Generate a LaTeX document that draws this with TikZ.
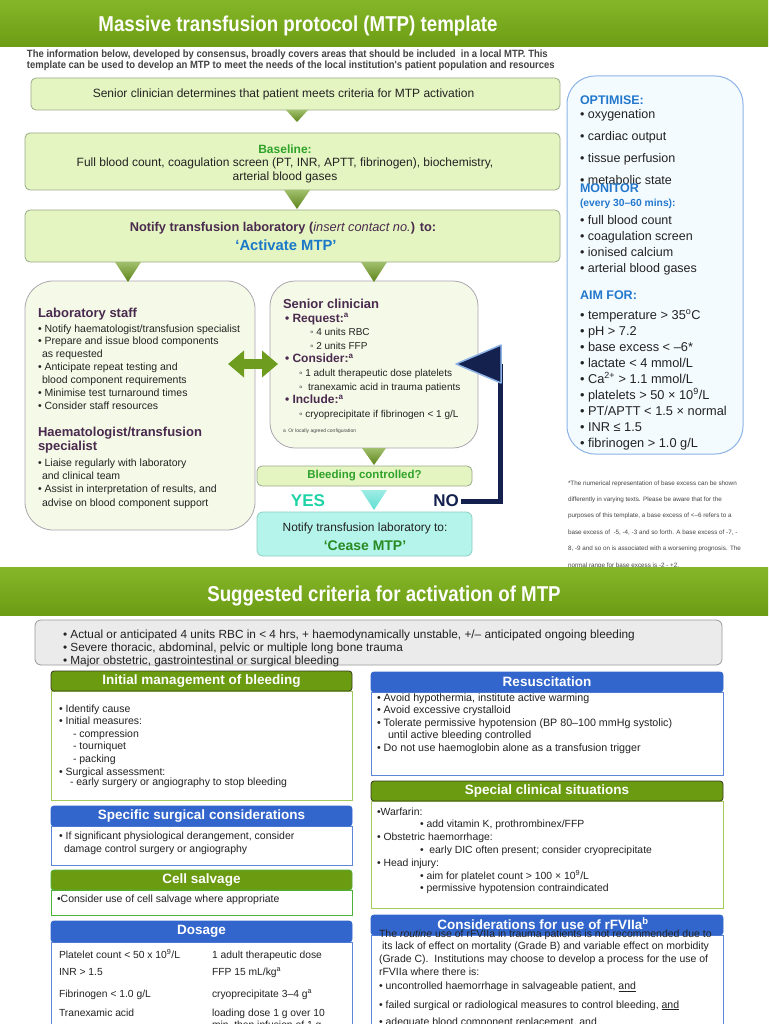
\documentclass[tikz,border=0pt]{standalone}
\usepackage{fontspec}
\setmainfont{Liberation Sans}
\newfontfamily\narrowT[FakeStretch=0.87]{Liberation Sans}
\newfontfamily\narrowS[FakeStretch=0.9]{Liberation Sans}
\usetikzlibrary{calc,arrows.meta}
\newcommand\myfs[2]{\fontsize{#1}{#2}\selectfont}
\newcommand\tb[1]{\parbox[t]{800pt}{\raggedright\leavevmode #1}}
\definecolor{bandtop}{HTML}{86B628}
\definecolor{bandbot}{HTML}{6C9C14}
\definecolor{lgreen}{HTML}{E5F5C1}
\definecolor{gbord}{HTML}{9AAA88}
\definecolor{vlgreen}{HTML}{F5FAE8}
\definecolor{bigbord}{HTML}{ABA6AE}
\definecolor{trigreen}{HTML}{6E9C1E}
\definecolor{purp}{HTML}{4A2A4E}
\definecolor{basegreen}{HTML}{2FA22A}
\definecolor{actblue}{HTML}{1A78C8}
\definecolor{cyanfill}{HTML}{B5F4EA}
\definecolor{cyanbord}{HTML}{8CCFC4}
\definecolor{tricyan}{HTML}{5EDFD2}
\definecolor{yesc}{HTML}{1FD3A6}
\definecolor{navy}{HTML}{14214F}
\definecolor{panelb}{HTML}{8DB3E6}
\definecolor{panelf}{HTML}{F4FBFF}
\definecolor{optblue}{HTML}{2378CC}
\definecolor{hblue}{HTML}{3366CC}
\definecolor{bblue}{HTML}{5D85D8}
\definecolor{hgreen2}{HTML}{6B9B10}
\definecolor{hgdark}{HTML}{3A3A22}
\definecolor{hgbright}{HTML}{4FB03A}
\definecolor{bgreen}{HTML}{A3CB5C}
\definecolor{critf}{HTML}{EBEBEB}
\definecolor{critb}{HTML}{9A9A9A}
\definecolor{txt}{HTML}{222222}
\definecolor{subt}{HTML}{444444}
\tikzset{
  band/.style={anchor=north west, minimum width=768pt, minimum height=48pt, top color=bandtop, bottom color=bandbot, draw=none},
  bandtitle/.style={font=\narrowT\bfseries\myfs{21.5}{24}, text=white},
  gbox/.style={anchor=north west, draw=gbord, fill=lgreen, rounded corners=5pt, line width=0.8pt},
  bigbox/.style={anchor=north west, draw=bigbord, fill=vlgreen, rounded corners=28pt, line width=0.8pt},
  txt/.style={anchor=base west, align=left},
  hdr/.style={anchor=north west, minimum height=20pt, rounded corners=3pt, line width=0.8pt},
  hdrG/.style={hdr, fill=hgreen2, draw=hgdark},
  hdrB/.style={hdr, fill=hblue, draw=hblue},
  body/.style={anchor=north west, fill=white, line width=1pt},
  htitle/.style={font=\bfseries\myfs{13.5}{15}, text=white},
  tri/.style={top color=trigreen!65!white, bottom color=trigreen!85!black, draw=none},
  tric/.style={top color=tricyan!60!white, bottom color=tricyan, draw=none},
  dblarrow/.style={draw=trigreen, line width=10pt, {Triangle[width=26pt,length=16pt]}-{Triangle[width=26pt,length=16pt]}},
  noline/.style={draw=navy, line width=5pt},
}
\newcommand\dtri[4]{\path[#4] ($(#1)+(-#2,0)$) -- ($(#1)+(#2,0)$) -- ($(#1)+(0,#3)$) -- cycle;}
\newcommand\seclab[1]{{\bfseries\myfs{12}{13.6}\color{purp}#1}}
\begin{document}
\begin{tikzpicture}[x=1pt,y=-1pt, every node/.style={inner sep=0pt, outer sep=0pt, text=txt}]
\useasboundingbox (0,0) rectangle (768,1024);
\clip (0,0) rectangle (768,1024);
\fill[white] (0,0) rectangle (768,1024);

% ---------- header 1
\node[band] (band1) at (0,-1) {};
\node[bandtitle] (title1) at (298,26) {Massive transfusion protocol (MTP) template};
\node[txt, font=\narrowS\bfseries\myfs{10.55}{10.5}, text=subt] (sub) at (27,58) {\tb{The information below, developed by consensus, broadly covers areas that should be included\ \ in a local MTP. This\\template can be used to develop an MTP to meet the needs of the local institution's patient population and resources}};

% ---------- flow boxes
\node[gbox, minimum width=529pt, minimum height=32pt] (b1) at (31,78) {};
\node[font=\myfs{12}{13}] (b1t) at ([xshift=-12pt]b1.center) {Senior clinician determines that patient meets criteria for MTP activation};

\node[gbox, minimum width=535pt, minimum height=57pt] (b2) at (25,133) {};
\node[font=\bfseries\myfs{12}{13}, text=basegreen] (b2h) at (285,149) {Baseline:};
\node[font=\myfs{12}{14}, align=center] (b2t) at (285,170) {Full blood count, coagulation screen (PT, INR, APTT, fibrinogen), biochemistry,\\arterial blood gases};

\node[gbox, minimum width=535pt, minimum height=52pt] (b3) at (25,210) {};
\node[font=\bfseries\myfs{12.8}{14}, text=purp] (b3t) at (283,228) {Notify transfusion laboratory (\textit{\mdseries insert contact no.}) to:};
\node[font=\bfseries\myfs{14.8}{16}, text=actblue] (b3a) at (286,245) {‘Activate MTP’};

\node[bigbox, minimum width=230pt, minimum height=249pt] (lab) at (25,281) {};
\node[bigbox, minimum width=208pt, minimum height=167pt, rounded corners=25pt] (sen) at (270,281) {};

\dtri{[xshift=1.5pt]b1.south}{11}{12}{tri}
\dtri{[xshift=4.5pt]b2.south}{13}{19}{tri}
\dtri{[xshift=-12pt]lab.north |- b3.south}{13}{20}{tri}
\dtri{sen.north |- b3.south}{13}{20}{tri}

% lab staff text
\node[txt, font=\bfseries\myfs{13}{14}, text=purp] (labT) at (38,317) {Laboratory staff};
\node[txt, font=\myfs{10.5}{12.9}] (labL) at (38,332) {\tb{• Notify haematologist/transfusion specialist\\• Prepare and issue blood components\\\hspace*{4pt}as requested\\• Anticipate repeat testing and\\\hspace*{4pt}blood component requirements\\• Minimise test turnaround times\\• Consider staff resources}};
\node[txt, font=\bfseries\myfs{13}{14.5}, text=purp] (hemT) at (38,436) {\tb{Haematologist/transfusion\\specialist}};
\node[txt, font=\myfs{10.5}{13.4}] (hemL) at (38,466) {\tb{• Liaise regularly with laboratory\\\hspace*{4pt}and clinical team\\• Assist in interpretation of results, and\\\hspace*{4pt}advise on blood component support}};

% senior clinician text
\node[txt, font=\bfseries\myfs{13}{14}, text=purp] (senT) at (283,308) {Senior clinician};
\node[txt, font=\myfs{10}{13.6}] (senL) at (285,322) {\tb{\seclab{• Request:\textsuperscript{a}}\\
\hspace*{25pt}◦ 4 units RBC\\
\hspace*{25pt}◦ 2 units FFP\\
\seclab{• Consider:\textsuperscript{a}}\\
\hspace*{14pt}◦ 1 adult therapeutic dose platelets\\
\hspace*{14pt}◦\ \ tranexamic acid in trauma patients\\
\seclab{• Include:\textsuperscript{a}}\\
\hspace*{14pt}◦ cryoprecipitate if fibrinogen < 1 g/L}};
\node[txt, font=\myfs{5}{6}, text=subt] (senF) at (283,432) {a\enspace Or locally agreed configuration};

% double arrow lab <-> senior
\coordinate (ya) at (0,364);
\draw[dblarrow] ([xshift=-27pt]lab.east |- ya) -- ([xshift=8pt]sen.west |- ya);

% bleeding controlled
\node[gbox, minimum width=215pt, minimum height=20pt] (bleed) at (257,466) {};
\node[font=\bfseries\myfs{11.5}{13}, text=basegreen] (bleedT) at (bleed.center) {Bleeding controlled?};
\dtri{sen.south}{12}{17}{tri}
\dtri{[yshift=-4pt]sen.south |- bleed.south}{13}{20}{tric}

\node[font=\bfseries\myfs{17}{19}, text=yesc] (yes) at (308,501) {YES};
\node[font=\bfseries\myfs{17}{19}, text=navy] (no) at (446,501) {NO};

\node[anchor=north west, draw=cyanbord, fill=cyanfill, rounded corners=6pt, line width=0.8pt, minimum width=215pt, minimum height=44pt] (cease) at (257,512) {};
\node[font=\myfs{11.9}{13}] (ceaseT) at (365,528) {Notify transfusion laboratory to:};
\node[font=\bfseries\myfs{14}{16}, text=basegreen!85!black] (ceaseM) at (365,546) {‘Cease MTP’};

% NO loop arrow
\draw[noline] ([xshift=2pt]no.east) -| ([xshift=22pt]sen.east |- ya);
\filldraw[fill=navy, draw=panelb, line width=1.5pt, line join=round] ([xshift=-22pt]sen.east |- ya) -- ++(45pt,-19pt) -- ++(0,38pt) -- cycle;

% ---------- right panel
\node[anchor=north west, draw=panelb, fill=panelf, rounded corners=28pt, line width=1pt, minimum width=176pt, minimum height=378pt] (pan) at (567,76) {};
\node[txt, font=\bfseries\myfs{12.5}{14}, text=optblue] (optT) at (580,105) {OPTIMISE:};
\node[txt, font=\myfs{12.5}{22}] (optL) at (580,119) {\tb{• oxygenation\\• cardiac output\\• tissue perfusion\\• metabolic state}};
\node[txt, font=\bfseries\myfs{12.5}{14}, text=optblue] (monT) at (580,193) {MONITOR};
\node[txt, font=\bfseries\myfs{10.3}{12}, text=optblue] (monS) at (580,207) {(every 30–60 mins):};
\node[txt, font=\myfs{12.5}{15.7}] (monL) at (580,225) {\tb{• full blood count\\• coagulation screen\\• ionised calcium\\• arterial blood gases}};
\node[txt, font=\bfseries\myfs{12.5}{14}, text=optblue] (aimT) at (580,299) {AIM FOR:};
\node[txt, font=\myfs{12.8}{16}] (aimL) at (580,319) {\tb{• temperature > 35\textsuperscript{o}C\\• pH > 7.2\\• base excess < –6*\\• lactate < 4 mmol/L\\• Ca\textsuperscript{2+} > 1.1 mmol/L\\• platelets > 50 × 10\textsuperscript{9}/L\\• PT/APTT < 1.5 × normal\\• INR ≤ 1.5\\• fibrinogen > 1.0 g/L}};
\node[txt, font=\myfs{6.3}{16.4}, text=subt] (foot) at (568,485) {\tb{*The numerical representation of base excess can be shown\\differently in varying texts. Please be aware that for the\\purposes of this template, a base excess of <–6 refers to a\\base excess of\ \ -5, -4, -3 and so forth. A base excess of -7, -\\8, -9 and so on is associated with a worsening prognosis. The\\normal range for base excess is -2 - +2.}};

% ---------- header 2
\node[band] (band2) at (0,567) {};
\node[bandtitle] (title2) at (384,596) {Suggested criteria for activation of MTP};

\node[anchor=north west, draw=critb, fill=critf, rounded corners=6pt, line width=0.8pt, minimum width=687pt, minimum height=45pt] (crit) at (35,620) {};
\node[txt, font=\myfs{11.8}{13}] (critL) at (63,638) {\tb{• Actual or anticipated 4 units RBC in < 4 hrs, + haemodynamically unstable, +/– anticipated ongoing bleeding\\• Severe thoracic, abdominal, pelvic or multiple long bone trauma\\• Major obstetric, gastrointestinal or surgical bleeding}};

% ---------- left column
\node[body, draw=bgreen, minimum width=301pt, minimum height=109pt] (imB) at (51,691) {};
\node[hdrG, minimum width=301pt] (imH) at (51,671) {};
\node[htitle] (imT) at (imH.center) {Initial management of bleeding};
\node[txt, font=\myfs{10.5}{12.6}] (imL) at (59,712) {\tb{• Identify cause\\• Initial measures:\\\hspace*{14pt}- compression\\\hspace*{14pt}- tourniquet\\\hspace*{14pt}- packing\\• Surgical assessment:\\[-2.5pt]\hspace*{11pt}- early surgery or angiography to stop bleeding}};

\node[body, draw=bblue, minimum width=301pt, minimum height=39pt] (ssB) at (51,826) {};
\node[hdrB, minimum width=301pt] (ssH) at (51,806) {};
\node[htitle] (ssT) at (ssH.center) {Specific surgical considerations};
\node[txt, font=\myfs{10.5}{13}] (ssL) at (59,839) {\tb{• If significant physiological derangement, consider\\\hspace*{5pt}damage control surgery or angiography}};

\node[body, draw=hgbright, minimum width=301pt, minimum height=25pt] (csB) at (51,890) {};
\node[hdr, fill=hgreen2, draw=hgbright, minimum width=301pt] (csH) at (51,870) {};
\node[htitle] (csT) at (csH.center) {Cell salvage};
\node[txt, font=\myfs{10.5}{13}] (csL) at (57,902) {•Consider use of cell salvage where appropriate};

\node[body, draw=bblue, minimum width=301pt, minimum height=100pt] (doB) at (51,942) {};
\node[hdrB, minimum width=301pt, minimum height=21pt] (doH) at (51,921) {};
\node[htitle] (doT) at (doH.center) {Dosage};
\node[txt, font=\myfs{10.3}{17}] (doL) at (59,958) {\tb{Platelet count < 50 x 10\textsuperscript{9}/L\\INR > 1.5\\[5pt]Fibrinogen < 1.0 g/L\\[2pt]Tranexamic acid}};
\node[txt, font=\myfs{10.3}{17}] (doR) at (212,958) {\tb{1 adult therapeutic dose\\FFP 15 mL/kg\textsuperscript{a}\\[5pt]cryoprecipitate 3–4 g\textsuperscript{a}\\[2pt]loading dose 1 g over 10\\[-5pt]min, then infusion of 1 g}};

% ---------- right column
\node[body, draw=bblue, minimum width=352pt, minimum height=83pt] (reB) at (371,692) {};
\node[hdrB, minimum width=352pt] (reH) at (371,672) {};
\node[htitle] (reT) at (reH.center) {Resuscitation};
\node[txt, font=\myfs{10.7}{12.6}] (reL) at (377,701) {\tb{• Avoid hypothermia, institute active warming\\• Avoid excessive crystalloid\\• Tolerate permissive hypotension (BP 80–100 mmHg systolic)\\\hspace*{11pt}until active bleeding controlled\\• Do not use haemoglobin alone as a transfusion trigger}};

\node[body, draw=bgreen, minimum width=352pt, minimum height=107pt] (scB) at (371,801) {};
\node[hdrG, minimum width=352pt] (scH) at (371,781) {};
\node[htitle] (scT) at (scH.center) {Special clinical situations};
\node[txt, font=\myfs{10.4}{12.8}] (scL) at (377,815) {\tb{•Warfarin:\\\hspace*{43pt}• add vitamin K, prothrombinex/FFP\\• Obstetric haemorrhage:\\\hspace*{43pt}•\ \ early DIC often present; consider cryoprecipitate\\• Head injury:\\\hspace*{43pt}• aim for platelet count > 100 × 10\textsuperscript{9}/L\\\hspace*{43pt}• permissive hypotension contraindicated}};

\node[body, draw=bblue, minimum width=352pt, minimum height=100pt] (coB) at (371,935) {};
\node[hdrB, minimum width=352pt] (coH) at (371,915) {};
\node[htitle] (coT) at (543,924) {Considerations for use of rFVIIa\textsuperscript{b}};
\node[txt, font=\myfs{10.5}{12.7}] (coL) at (379,937) {\tb{The \textit{routine} use of rFVIIa in trauma patients is not recommended due to\\\hspace*{3pt}its lack of effect on mortality (Grade B) and variable effect on morbidity\\(Grade C).\ \ Institutions may choose to develop a process for the use of\\rFVIIa where there is:\\[1.5pt]• uncontrolled haemorrhage in salvageable patient, \underline{and}\\[6pt]• failed surgical or radiological measures to control bleeding, \underline{and}\\[5pt]• adequate blood component replacement, and}};
\end{tikzpicture}
\end{document}
